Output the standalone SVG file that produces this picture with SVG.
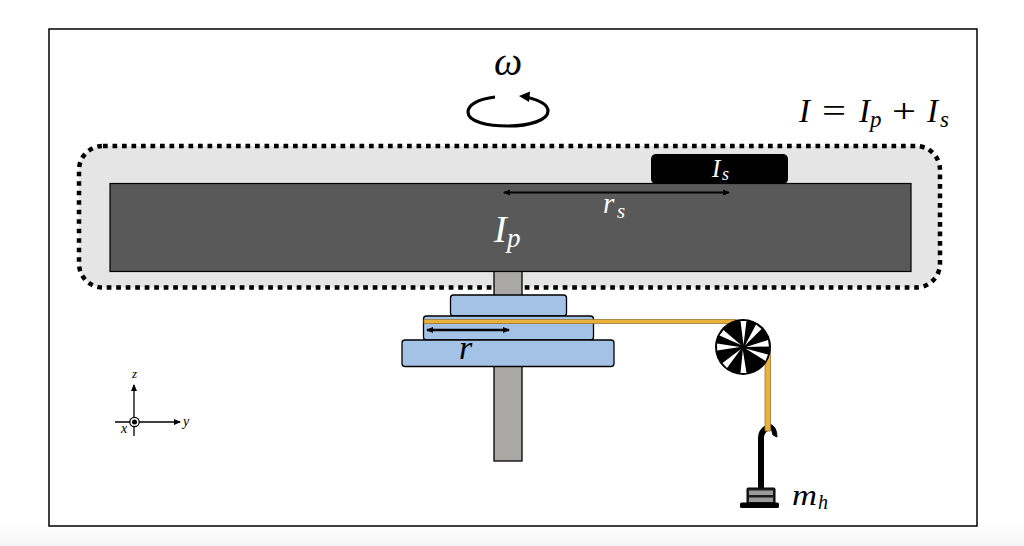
<svg xmlns="http://www.w3.org/2000/svg" width="1024" height="546" viewBox="0 0 1024 546">
<defs>
<marker id="ah" markerUnits="userSpaceOnUse" markerWidth="8" markerHeight="8" refX="6" refY="4" orient="auto-start-reverse"><path d="M0 1L7 4L0 7Z" fill="#000"/></marker>
<linearGradient id="fade" x1="0" y1="0" x2="0" y2="1"><stop offset="0" stop-color="#fff"/><stop offset="1" stop-color="#f5f5f5"/></linearGradient>
</defs>
<style>
.m{font-family:"Liberation Serif","DejaVu Serif",serif;font-style:italic;fill:#000}
.u{font-family:"Liberation Serif","DejaVu Serif",serif;fill:#000}
.w{fill:#fff}
.d{fill:#a4c2e6;stroke:#000;stroke-width:1.3}
.rope{fill:#e9b23c;stroke:#9a7a30;stroke-width:.8}
.ln{fill:none;stroke:#000}
.s{fill:#aaa8a5;stroke:#000;stroke-width:1.3}
</style>
<rect width="1024" height="546" fill="#fff"/>
<rect x="0" y="522" width="1024" height="24" fill="url(#fade)"/>
<rect id="frame" x="49" y="29" width="928" height="497" fill="#fff" stroke="#000" stroke-width="1.5"/>
<g id="system-boundary"><rect x="79" y="146" width="861" height="141.500" rx="24" fill="#e5e5e5"/><path d="M103 146H916A24 24 0 0 1 940 170V263.500A24 24 0 0 1 916 287.500H103A24 24 0 0 1 79 263.500V170A24 24 0 0 1 103 146Z" fill="none" stroke="#000" stroke-width="4.500" stroke-dasharray="4.700 4.800"/></g>
<g id="shaft"><rect class="s" x="494" y="262" width="28" height="199"/></g>
<g id="platform"><rect x="110" y="183.500" width="801" height="88" fill="#595959" stroke="#000" stroke-width="1.2"/><text class="m w" x="494" y="242" font-size="38">I</text><text class="m w" x="507" y="247" font-size="27">p</text></g>
<g id="sample"><rect x="651" y="154" width="137" height="30" rx="5" fill="#000"/><text class="m w" x="712" y="177" font-size="25">I</text><text class="m w" x="722" y="180" font-size="18">s</text></g>
<g id="disk-top"><rect class="d" x="450.500" y="295" width="116" height="21" rx="3"/></g>
<g id="disk-mid"><rect class="d" x="423.500" y="316" width="170" height="24" rx="3"/></g>
<g id="disk-bottom"><rect class="d" x="402" y="340" width="212" height="26.500" rx="3"/><text class="m" x="459" y="359" font-size="34">r</text></g>
<g id="hanger"><path d="M761 488V438Q761 431 767 428" fill="none" stroke="#000" stroke-width="6"/><path d="M770 424Q777 427 777 437L773 435Z" fill="#000" stroke="#000" stroke-width="1"/><rect x="747" y="488" width="28" height="16" fill="#1c1c1c" stroke="#000" rx="1"/><rect x="749" y="490.500" width="24" height="4.500" fill="#9a9a9a"/><rect x="749" y="497.500" width="24" height="4.500" fill="#9a9a9a"/><rect x="740" y="502.500" width="39" height="5.500" rx="1.500" fill="#000"/><text class="m" x="792" y="505" font-size="30" textLength="25" lengthAdjust="spacingAndGlyphs">m</text><text class="m" x="818" y="509" font-size="20">h</text></g>
<g id="connectors">
<path class="rope" d="M424 319.500H736V323.500H424Z"/>
<path class="rope" d="M765 350H770.500V431H765Z"/>
<path class="ln" stroke-width="2.500" d="M427 330H509" marker-start="url(#ah)" marker-end="url(#ah)"/>
<path class="ln" stroke-width="2" d="M504 192.500H729" marker-start="url(#ah)" marker-end="url(#ah)"/>
<path class="ln" stroke-width="1.300" d="M134 421V385" marker-end="url(#ah)"/>
<path class="ln" stroke-width="1.300" d="M134 422H180" marker-end="url(#ah)"/>
<path class="ln" stroke-width="1.300" d="M115 422H130M134 426V436"/>
<circle cx="134.500" cy="422" r="4.700" fill="#fff" stroke="#000" stroke-width="1.300"/><circle cx="134.500" cy="422" r="2.500" fill="#000"/>
<path class="ln" stroke-width="3.200" d="M495 97C478 99 468 105 468 112C468 122 488 126 508 126C530 126 548 120 548 111C548 105 539 100 526 97"/>
<path d="M519 96L530 91.500L529 102Z" fill="#000"/>
</g>
<g id="pulley"><circle cx="743" cy="347" r="28" fill="#000"/><path fill="#fff" d="M740.500 321L746.500 321L743.500 345ZM756 324.500L761.500 329L745 345.500ZM768 340L769 346.500L746 347ZM768 354.500L765.500 361L745.500 348.500ZM746.500 373L740.500 373L742.800 350ZM727 368L722.500 363L741 349ZM717.100 350.500L717.100 343.500L740 347ZM719.500 335.500L723.500 330L741 345Z"/></g>
<g id="labels">
<text class="m" x="494" y="75" font-size="40">ω</text>
<text class="m" x="799" y="122" font-size="33">I</text><text class="u" x="822" y="122" font-size="33" textLength="24" lengthAdjust="spacingAndGlyphs">=</text><text class="m" x="859" y="122" font-size="33">I</text><text class="m" x="870" y="127" font-size="23">p</text><text class="u" x="892" y="122" font-size="33" textLength="24" lengthAdjust="spacingAndGlyphs">+</text><text class="m" x="927" y="122" font-size="33">I</text><text class="m" x="940" y="127" font-size="23">s</text>
<text class="m w" x="603" y="213" font-size="29">r</text><text class="m w" x="617" y="218" font-size="21">s</text>
<text class="m" x="132" y="378" font-size="13">z</text><text class="m" x="183" y="426" font-size="14">y</text><text class="m" x="121" y="433" font-size="14">x</text>
</g>
</svg>
